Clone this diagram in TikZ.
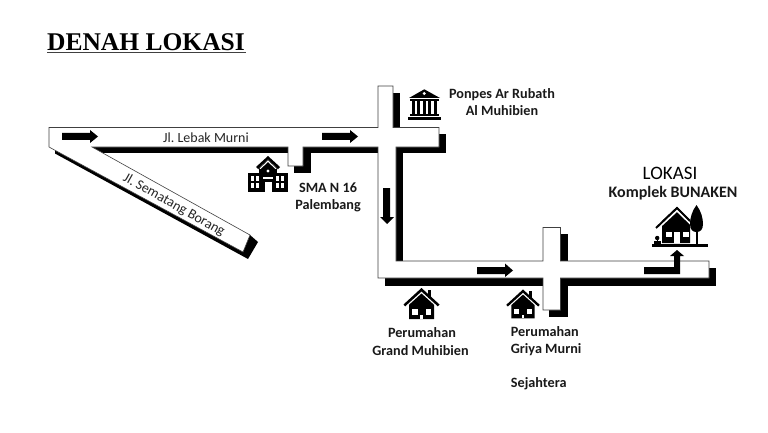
\documentclass[tikz,border=0pt]{standalone}
\usepackage{fontspec}
\setmainfont{Carlito}
\newfontfamily\titlefont{Liberation Serif}
\frenchspacing
\tikzset{
  x=1pt,y=-1pt,
  band/.style={fill=black,draw=none},
  road/.style={fill=white,draw=black!75,line width=0.6pt,line join=miter},
  lab/.style={font=\bfseries\fontsize{14.2}{16}\selectfont,inner sep=0pt,text=black!90},
  roadlab/.style={font=\fontsize{14}{16}\selectfont,inner sep=0pt,text=black!85},
  arrowbody/.style={fill=black,draw=none},
  homeicon/.pic={
    \fill (-18,2.5) -- (0,-14) -- (18,2.5) -- (16.3,4.3) -- (0,-10.5) -- (-16.3,4.3) -- cycle;
    \fill (6.5,-12) rectangle (9.5,-4);
    \fill (0,-8.5) -- (12.5,2.8) -- (12.5,17) -- (-12.5,17) -- (-12.5,2.8) -- cycle;
    \fill[white] (-9.5,7) rectangle (-4,12.5);
    \fill[white] (4,7) rectangle (9.5,12.5);
    \fill[white] (-1.5,13) rectangle (1.5,17);
  }
}
\begin{document}
\begin{tikzpicture}
\useasboundingbox (0,0) rectangle (768,433);
% title
\node[font=\titlefont\bfseries\fontsize{25.5}{30}\selectfont,inner sep=0pt,anchor=center] (title) at (146,42) {DENAH LOKASI};
\fill[black!75] (47,51.8) rectangle (245.5,53.4);
% shadows
\fill[band] (55,150) -- (55,153.5) -- (248,259) -- (258,242) -- (250,235) -- cycle;
\fill[band] (92,147) rectangle (294,153);
\fill[band] (294,147) rectangle (311,173);
\fill[band] (303,147) rectangle (446,153);
\fill[band] (393,93) rectangle (400,128);
\fill[band] (439,134) rectangle (446,153);
\fill[band] (396,147) rectangle (403,262);
\fill[band] (385,278) rectangle (716,285.5);
\fill[band] (709,268) rectangle (716,285.5);
\fill[band] (560,234) rectangle (567.5,262);
\fill[band] (560,278) rectangle (567.5,317);
\fill[band] (549,310) rectangle (567.5,317);
% road
\draw[road] (49,127.5) -- (378,127.5) -- (378,86) -- (393,86) -- (393,127.5) -- (439,127.5) -- (439,147) -- (396,147) -- (396,261) -- (543,261) -- (543,227.5) -- (560.5,227.5) -- (560.5,261) -- (709,261) -- (709,278) -- (560.5,278) -- (560.5,310) -- (543,310) -- (543,278) -- (378,278) -- (378,147) -- (303,147) -- (303,166) -- (288,166) -- (288,147) -- (92,147) -- (250,235) -- (243,252) -- (49,147) -- cycle;
% arrows
\fill[arrowbody] (62,133) -- (90,133) -- (90,130) -- (98,136.5) -- (90,143) -- (90,140) -- (62,140) -- cycle;
\fill[arrowbody] (322,133) -- (350,133) -- (350,130) -- (358,136.5) -- (350,143) -- (350,140) -- (322,140) -- cycle;
\fill[arrowbody] (383,188) -- (390,188) -- (390,217) -- (394,217) -- (387,224) -- (380,217) -- (383,217) -- cycle;
\fill[arrowbody] (477,267) -- (505,267) -- (505,263.5) -- (513,270.5) -- (505,277) -- (505,274) -- (477,274) -- cycle;
\fill[arrowbody] (644,267) -- (674,267) -- (674,256) -- (670,256) -- (677,250) -- (684,256) -- (680,256) -- (680,274) -- (644,274) -- cycle;
% road labels
\node[roadlab] (lebak) at (206,137.5) {Jl. Lebak Murni};
\node[roadlab,rotate=-29.3] (sematang) at (174,205) {Jl. Sematang Borang};
% labels
\node[lab,align=center] (sma) at (328,197.5) {SMA N 16\\[1.5pt]Palembang};
\node[lab,align=center] (ponpes) at (502,102) {Ponpes Ar Rubath\\[1.5pt]Al Muhibien};
\node[font=\fontsize{19}{22}\selectfont,inner sep=0pt,text=black] (lokasi) at (670,173) {LOKASI};
\node[lab,font=\bfseries\fontsize{16}{18}\selectfont] (komplek) at (673,193) {Komplek BUNAKEN};
\node[lab] (per1) at (422,333) {Perumahan};
\node[lab] (grand) at (420.5,351) {Grand Muhibien};
\node[lab,anchor=west] (per2) at (510.7,332) {Perumahan};
\node[lab,anchor=west] (griya) at (510.7,350) {Griya Murni};
\node[lab,anchor=west] (sej) at (510.7,384) {Sejahtera};
% school
\fill (248,173) rectangle (288,192);
\fill (259,168) rectangle (277,192);
\fill (268,160) -- (278,169) -- (258,169) -- cycle;
\fill (268,156) -- (280,167) -- (278,169) -- (268,159.5) -- (258,169) -- (256,167) -- cycle;
\fill[white] (268,160.5) -- (276.5,168.5) -- (275.5,169) -- (268,162) -- (260.5,169) -- (259.5,168.5) -- cycle;
\fill[white] (268,171) circle (1.6);
\foreach \xx in {250.5,255.5,280.5,275.5}{\foreach \yy in {175.5,183}{\fill[white] (\xx,\yy) rectangle +(3.8,5);}}
\fill[white] (263,177) rectangle (273,178.5);
\fill[white] (264.5,182) rectangle (271.5,192);
% museum
\fill (424.3,89.3) -- (440,98) -- (409,98) -- cycle;
\fill[white] (424.3,93.5) circle (1.6);
\fill (410,99.5) rectangle (439,101);
\foreach \xx in {411.5,417,422.5,428,433.5}{\fill (\xx,101) rectangle +(3.2,13);}
\fill (410,114) rectangle (439,116.5);
\fill (408,117) rectangle (441,120);
% houses
\pic at (421.5,302) {homeicon};
\pic[scale=0.93] at (523,302.5) {homeicon};
% location house
\fill (677,207) -- (690,220) -- (690,243) -- (662,243) -- (662,221) -- cycle;
\draw[line width=2.2pt,white] (656,230) -- (677,210.5) -- (692,225);
\draw[line width=2pt] (656,228) -- (677,208) -- (690,221);
\fill[white] (665.5,232) rectangle (671.5,237);
\fill[white] (674,232) rectangle (680,243);
\fill[white] (683,232) rectangle (689,237);
\fill (696.5,205) .. controls (692,211) and (690,218) .. (690,224) .. controls (690,230) and (693,232) .. (696.5,232) .. controls (700,232) and (703,230) .. (703,224) .. controls (703,218) and (701,211) .. (696.5,205) -- cycle;
\fill (695.7,230) rectangle (697.5,244);
\fill (652,243.5) rectangle (708,247);
\fill (656.5,236) rectangle (658,244);
\fill (657.2,238) circle (2.2);
\fill (654,241) rectangle (660.5,243.5);
\end{tikzpicture}
\end{document}
